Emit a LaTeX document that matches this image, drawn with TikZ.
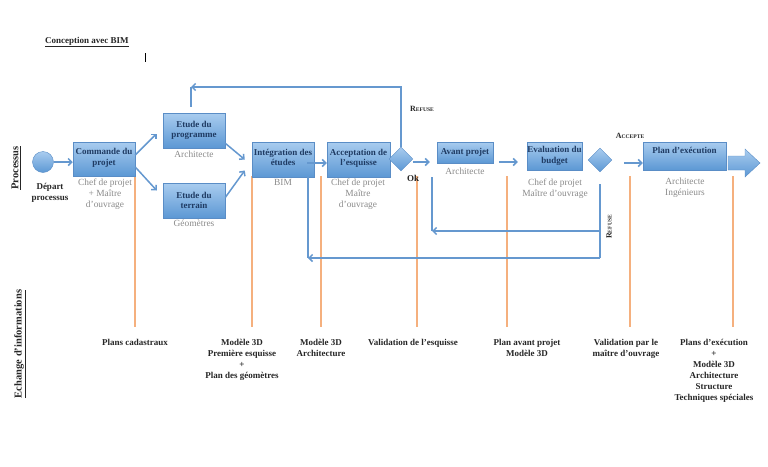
\documentclass[tikz,border=0pt]{standalone}
\usepackage{fontspec}
\setmainfont{Liberation Serif}
\usetikzlibrary{shapes.geometric,arrows.meta,shadows,calc}
\definecolor{boxtop}{HTML}{A9CCEF}
\definecolor{boxbot}{HTML}{5C98D4}
\definecolor{boxline}{HTML}{5A8DC6}
\definecolor{boxtext}{HTML}{1F3B63}
\definecolor{conn}{HTML}{6598CF}
\definecolor{orangeline}{HTML}{F5B07E}
\definecolor{rolegray}{HTML}{8A8A8A}
\definecolor{darktext}{HTML}{262626}
\tikzset{
  box/.style={rectangle, top color=boxtop, bottom color=boxbot, draw=boxline, line width=0.5pt,
    text=boxtext, font=\bfseries\fontsize{9}{10.5}\selectfont, align=center, inner sep=0pt,
    drop shadow={shadow xshift=1pt, shadow yshift=-1.2pt, opacity=0.3}},
  dmd/.style={diamond, top color=boxtop, bottom color=boxbot, draw=boxline, line width=0.4pt,
    minimum width=24pt, minimum height=24pt, inner sep=0pt},
  role/.style={text=rolegray, font=\fontsize{9.4}{10.8}\selectfont, align=center, inner sep=0pt},
  info/.style={text=darktext, font=\bfseries\fontsize{9}{11}\selectfont, align=center, inner sep=0pt},
  lbl/.style={text=darktext, font=\bfseries\fontsize{9}{11}\selectfont, align=center, inner sep=0pt},
  side/.style={text=darktext, font=\bfseries\fontsize{10.5}{12}\selectfont, inner sep=0pt, rotate=90},
  connline/.style={draw=conn, line width=1.5pt},
  connarrow/.style={draw=conn, line width=1.5pt, -{Straight Barb[length=3.5pt,width=7pt]}},
  orng/.style={draw=orangeline, line width=1.4pt},
}
\newcommand{\scap}[2]{{\fontsize{8}{9}\selectfont #1}{\fontsize{5.6}{9}\selectfont #2}}
\begin{document}
\begin{tikzpicture}[x=1pt,y=-1pt]
\useasboundingbox (0,0) rectangle (768,466);

% title
\node[lbl, anchor=west] (title) at (45,42) {\underline{Conception avec BIM}};
\draw[black, line width=0.6pt] (145,53) -- (145,62);

% side labels
\node[side] (proc) at (16,168) {\underline{Processus}};
\node[side] (ech) at (20,344) {\underline{Echange d’informations}};

% orange lines
\foreach \xx in {135,252,321,417,507,630,733}
  \draw[orng] (\xx,176) -- (\xx,327);

% start
\node[circle, top color=boxtop, bottom color=boxbot, draw=boxline, line width=0.4pt, minimum size=21pt, inner sep=0pt] (start) at (43,162) {};
\node[lbl, anchor=north] (startl) at (50,183.5) {Départ\\processus};

% boxes
\node[box, minimum width=62pt, minimum height=34pt] (cmd) at (104,159) {Commande du\\projet\\[-6pt]\mbox{}};
\node[box, minimum width=62pt, minimum height=35pt] (prog) at (194,130.5) {Etude du\\programme};
\node[box, minimum width=62pt, minimum height=35pt] (terr) at (194,200.5) {Etude du\\terrain};
\node[box, minimum width=62pt, minimum height=35pt] (integ) at (283,159.5) {Intégration des\\études\\[-6pt]\mbox{}};
\node[box, minimum width=63pt, minimum height=35pt] (accep) at (358.5,159.5) {Acceptation de\\l’esquisse\\[-6pt]\mbox{}};
\node[dmd] (d1) at (401,159) {};
\node[box, minimum width=56pt, minimum height=21pt] (avant) at (465,152.5) {Avant projet};
\node[box, minimum width=55pt, minimum height=28pt] (evalb) at (554.5,156) {Evaluation du\\budget};
\node[dmd] (d2) at (600,160) {};
\node[box, minimum width=83pt, minimum height=28pt] (plan) at (684.5,156) {Plan d’exécution\\\mbox{}};
\shade[top color=boxtop, bottom color=boxbot, draw=boxline, line width=0.4pt]
  (728,156) -- (745,156) -- (745,149) -- (760,163) -- (745,177) -- (745,170) -- (728,170) -- cycle;

% role labels
\node[role, anchor=north] (cmdr) at (105,179) {Chef de projet\\+ Maître\\d’ouvrage};
\node[role, anchor=north] (progr) at (194,151) {Architecte};
\node[role, anchor=north] (terrr) at (194,220) {Géomètres};
\node[role, anchor=north] (integr) at (283,179) {BIM};
\node[role, anchor=north] (accepr) at (358,179) {Chef de projet\\Maître\\d’ouvrage};
\node[role, anchor=north] (avantr) at (465,168) {Architecte};
\node[role, anchor=north] (evalr) at (555,179) {Chef de projet\\Maître d’ouvrage};
\node[role, anchor=north] (planr) at (685,178) {Architecte\\Ingénieurs};

% small labels
\node[lbl] (ok) at (413,178) {Ok};
\node[text=darktext, font=\bfseries, inner sep=0pt] (ref1) at (422,109) {\scap{R}{EFUSE}};
\node[text=darktext, font=\bfseries, inner sep=0pt] (acc) at (630,136) {\scap{A}{CCEPTE}};
\node[text=darktext, font=\bfseries, inner sep=0pt, rotate=90] (ref2) at (609,227) {\scap{R}{EFUSE}};

% connectors
\draw[connarrow] (start.east) -- (cmd.west |- start.east);
\draw[connarrow] ([yshift=4pt]cmd.east) -- ([xshift=-6pt,yshift=-3pt]prog.west);
\draw[connarrow] ([yshift=-8pt]cmd.east) -- ([xshift=-6pt,yshift=10pt]terr.west);
\draw[connarrow] ([yshift=5pt]prog.south east) -- ([xshift=-7pt]integ.west);
\draw[connarrow] ([yshift=3pt]terr.east) -- ([xshift=-7pt,yshift=-11pt]integ.west);
\draw[connarrow] ([xshift=-7pt,yshift=-3.5pt]integ.east) -- ([yshift=-3.5pt]accep.west);
\coordinate (s1) at ([yshift=-3pt]d1.east);
\coordinate (e1) at ([xshift=-7pt]avant.west);
\draw[connarrow] (s1) -- (e1 |- s1);
\coordinate (s2) at ([xshift=6pt]avant.east);
\coordinate (e2) at ([xshift=-9pt]evalb.west);
\draw[connarrow] (s2 |- s1) -- (e2 |- s1);
\coordinate (s3) at ([xshift=12pt,yshift=-3pt]d2.east);
\draw[connarrow] (s3) -- (plan.west |- s3);

% refuse loop 1
\coordinate (r1) at (191,87);
\draw[connarrow] (d1.north) |- (r1);
\draw[connline] (r1) -- ([yshift=6pt]r1 |- prog.north);

% refuse loops 2
\coordinate (q1) at ([yshift=-12pt]d2.south);
\coordinate (q2) at (q1 |- 0,258);
\coordinate (q3) at (308,258);
\coordinate (q4) at (q1 |- 0,231);
\coordinate (q5) at (432,231);
\draw[connline] (q1) -- (q2);
\draw[connarrow] (q2) -- (q3);
\draw[connline] (q3) -- (q3 |- integ.south);
\draw[connarrow] (q4) -- (q5);
\draw[connline] (q5) -- (q5 |- integ.south);

% information exchange
\node[info, anchor=north] (i1) at (135,339) {Plans cadastraux};
\node[info, anchor=north] (i2) at (242,339) {Modèle 3D\\Première esquisse\\+\\Plan des géomètres};
\node[info, anchor=north] (i3) at (321,339) {Modèle 3D\\Architecture};
\node[info, anchor=north] (i4) at (413,339) {Validation de l’esquisse};
\node[info, anchor=north] (i5) at (527,339) {Plan avant projet\\Modèle 3D};
\node[info, anchor=north] (i6) at (626,339) {Validation par le\\maître d’ouvrage};
\node[info, anchor=north] (i7) at (714,339) {Plans d’exécution\\+\\Modèle 3D\\Architecture\\Structure\\Techniques spéciales};
\end{tikzpicture}
\end{document}
